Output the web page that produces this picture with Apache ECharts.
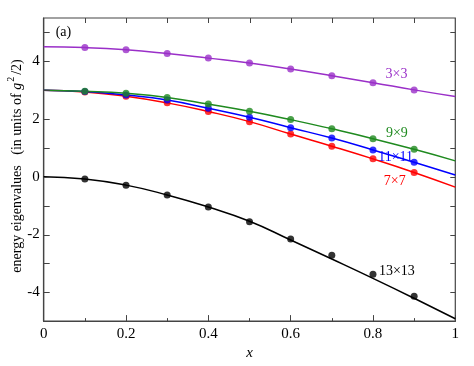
<!DOCTYPE html>
<html><head><meta charset="utf-8">
<script src="https://cdn.jsdelivr.net/npm/echarts@6/dist/echarts.min.js"></script>
<style>html,body{margin:0;padding:0;background:#fff}#c{width:474px;height:366px}</style>
</head><body><div id="c"></div>
<script>
// x values for data points and for fitted curves
const xDots = [0.1, 0.2, 0.3, 0.4, 0.5, 0.6, 0.7, 0.8, 0.9];
const xLine = [0, 0.1, 0.2, 0.3, 0.4, 0.5, 0.6, 0.7, 0.8, 0.9, 1.0];

// 3x3 (purple)
const dots3 = [4.475, 4.40, 4.27, 4.11, 3.94, 3.73, 3.50, 3.26, 3.01];
const line3 = [4.5, 4.475, 4.40, 4.27, 4.11, 3.94, 3.73, 3.50, 3.26, 3.01, 2.78];
// 7x7 (red)
const dots7 = [2.94, 2.79, 2.56, 2.26, 1.91, 1.48, 1.06, 0.62, 0.15];
const line7 = [3.0, 2.94, 2.79, 2.56, 2.26, 1.91, 1.48, 1.06, 0.62, 0.15, -0.36];
// 11x11 (blue)
const dots11 = [2.95, 2.83, 2.66, 2.37, 2.06, 1.70, 1.34, 0.93, 0.50];
const line11 = [3.0, 2.95, 2.83, 2.66, 2.37, 2.06, 1.70, 1.34, 0.93, 0.50, 0.06];
// 9x9 (green)
const dots9 = [2.96, 2.89, 2.75, 2.52, 2.27, 1.98, 1.66, 1.32, 0.95];
const line9 = [3.0, 2.96, 2.89, 2.75, 2.52, 2.27, 1.98, 1.66, 1.32, 0.95, 0.55];
// 13x13 (black)
const dots13 = [-0.08, -0.29, -0.63, -1.05, -1.56, -2.16, -2.72, -3.38, -4.14];
const line13 = [0, -0.08, -0.29, -0.63, -1.05, -1.54, -2.19, -2.85, -3.52, -4.21, -4.92];

const xTickLabels = {0: '0', 0.2: '0.2', 0.4: '0.4', 0.6: '0.6', 0.8: '0.8', 1: '1'};
const yTickLabels = {'-4': '-4', '-2': '-2', '0': '0', '2': '2', '4': '4'};
const yTickValues = [-5, -4, -3, -2, -1, 0, 1, 2, 3, 4, 5];
const xTopTickValues = [0.1, 0.2, 0.3, 0.4, 0.5, 0.6, 0.7, 0.8, 0.9];

const curveLabels = [
  {text: '3\u00d73', x: 0.857, y: 3.54, color: '#9a2fc8'},
  {text: '9\u00d79', x: 0.858, y: 1.49, color: '#1f8a1f'},
  {text: '11\u00d711', x: 0.855, y: 0.67, color: '#0000ff'},
  {text: '7\u00d77', x: 0.853, y: -0.17, color: '#ff0000'},
  {text: '13\u00d713', x: 0.858, y: -3.27, color: '#000000'},
  {text: '(a)', x: 0.048, y: 4.99, color: '#000000'}
];

const FONT = '"Liberation Serif", "DejaVu Serif", serif';
const AX = '#444';
const pairs = (xs, ys) => xs.map((x, i) => [x, ys[i]]);

const groups = [
  {line: line3, dots: dots3, color: '#9a2fc8'},
  {line: line7, dots: dots7, color: '#ff0000'},
  {line: line11, dots: dots11, color: '#0000ff'},
  {line: line9, dots: dots9, color: '#1f8a1f'},
  {line: line13, dots: dots13, color: '#000000'}
];
const series = [];
groups.forEach(g => {
  series.push({type: 'line', data: pairs(xLine, g.line), smooth: true, showSymbol: false,
    lineStyle: {color: g.color, width: 1.5}, z: 2, silent: true});
  series.push({type: 'scatter', data: pairs(xDots, g.dots), symbolSize: 7,
    itemStyle: {color: g.color}, z: 3, silent: true});
});

const chart = echarts.init(document.getElementById('c'), null, {renderer: 'canvas'});
chart.setOption({
  animation: false,
  backgroundColor: '#fff',
  grid: {left: 43.7, right: 18.7, top: 18, bottom: 37.3, show: true,
         borderColor: AX, borderWidth: 1.2, backgroundColor: 'transparent'},
  xAxis: {type: 'value', position: 'bottom', min: 0, max: 1, interval: 0.2,
     axisLine: {onZero: false, lineStyle: {color: AX, width: 1.2}},
     axisTick: {inside: true, length: 6, lineStyle: {color: AX}},
     minorTick: {show: true, splitNumber: 2, length: 3, lineStyle: {color: AX}},
     splitLine: {show: false},
     axisLabel: {fontFamily: FONT, fontSize: 15, color: '#000', margin: 5,
       formatter: v => xTickLabels[Math.round(v * 10) / 10] ?? ''},
     name: 'x', nameLocation: 'middle', nameGap: 21,
     nameTextStyle: {fontFamily: FONT, fontSize: 15, fontStyle: 'italic', color: '#000'}},
  yAxis: {type: 'value', position: 'left', min: -5, max: 5.5, interval: 1,
     axisLine: {show: true, onZero: false, lineStyle: {color: AX, width: 1.2}},
     axisTick: {show: false}, minorTick: {show: false},
     splitLine: {show: false},
     axisLabel: {fontFamily: FONT, fontSize: 15, color: '#000', margin: 4,
       formatter: v => yTickLabels[String(Math.round(v * 10) / 10)] ?? ''}},
  series: series
});

const graphics = curveLabels.map(l => {
  const p = chart.convertToPixel({xAxisIndex: 0, yAxisIndex: 0}, [l.x, l.y]);
  return {type: 'text', x: p[0], y: p[1], z: 10, silent: true,
    style: {text: l.text, fill: l.color, font: '14px ' + FONT, align: 'center', verticalAlign: 'middle'}};
});
// y-axis ticks (inside, on both sides) placed through the axis scale
yTickValues.forEach(v => {
  const pl = chart.convertToPixel({xAxisIndex: 0, yAxisIndex: 0}, [0, v]);
  const pr = chart.convertToPixel({xAxisIndex: 0, yAxisIndex: 0}, [1, v]);
  const yy = Math.round(pl[1]) + 0.5;
  graphics.push({type: 'line', silent: true, z: 5,
    shape: {x1: pl[0], y1: yy, x2: pl[0] + 6, y2: yy}, style: {stroke: AX, lineWidth: 1}});
  graphics.push({type: 'line', silent: true, z: 5,
    shape: {x1: pr[0] - 5, y1: yy, x2: pr[0], y2: yy}, style: {stroke: AX, lineWidth: 1}});
});
// top x-axis ticks (inside)
xTopTickValues.forEach(v => {
  const p = chart.convertToPixel({xAxisIndex: 0, yAxisIndex: 0}, [v, 5.5]);
  const xx = Math.round(p[0]) + 0.5;
  graphics.push({type: 'line', silent: true, z: 5,
    shape: {x1: xx, y1: p[1], x2: xx, y2: p[1] + 5}, style: {stroke: AX, lineWidth: 1}});
});
graphics.push({type: 'text', x: 15, y: 166, rotation: Math.PI / 2, z: 10, silent: true,
  style: {text: '{a|energy eigenvalues   (in units of }{i|g}{s|2}{a|/2)}',
    align: 'center', verticalAlign: 'middle', fill: '#000',
    rich: {
      a: {fontFamily: FONT, fontSize: 14, fill: '#000', verticalAlign: 'bottom'},
      i: {fontFamily: FONT, fontSize: 14, fontStyle: 'italic', fill: '#000', verticalAlign: 'bottom'},
      s: {fontFamily: FONT, fontSize: 10, fill: '#000', verticalAlign: 'top', padding: [0, 2, 8, 1]}
    }}});
chart.setOption({graphic: graphics});
</script></body></html>
